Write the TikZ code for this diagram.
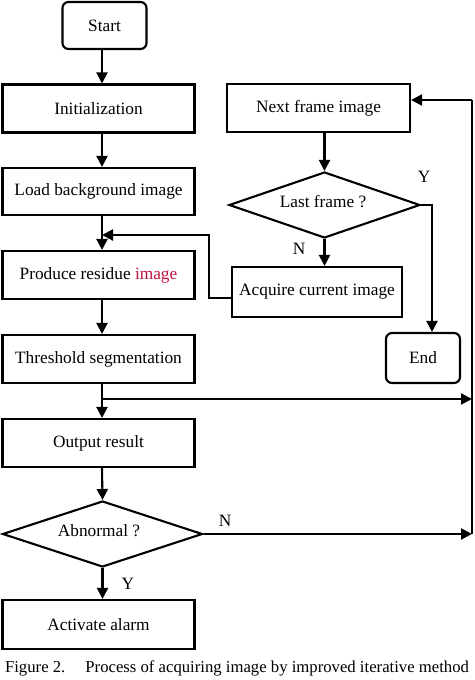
\documentclass[tikz,border=0pt]{standalone}
\usepackage{fontspec}
\setmainfont{Liberation Serif}
\usetikzlibrary{shapes.geometric,arrows.meta}
\definecolor{redtxt}{RGB}{190,20,60}
\begin{document}
\begin{tikzpicture}[x=1pt,y=-1pt,
  every node/.style={font=\fontsize{17.3}{20}\selectfont},
  box/.style={draw,line width=2.1pt,inner sep=0pt,align=center},
  rbox/.style={box,rounded corners=6pt},
  dia/.style={draw,line width=2.1pt,diamond,inner sep=0pt},
  arr/.style={line width=2.1pt,-{Triangle[length=11pt,width=11pt]}},
  ln/.style={line width=2.1pt},
  lbl/.style={inner sep=0pt}]
\useasboundingbox (0,0) rectangle (474,680);
\coordinate (colx) at (102,0);
\node[rbox,minimum width=84pt,minimum height=47pt] (start) at (104.5,25.5) {Start};
\node[box,minimum width=192pt,minimum height=48pt] (init) at (98.5,108.5) {Initialization};
\node[box,minimum width=192pt,minimum height=47pt] (load) at (98.5,191.5) {Load background image};
\node[box,minimum width=192pt,minimum height=48pt] (prod) at (98.5,275) {Produce residue \textcolor{redtxt}{image}};
\node[box,minimum width=192pt,minimum height=48pt] (thr) at (98.5,359) {Threshold segmentation};
\node[box,minimum width=192pt,minimum height=48pt] (out) at (98.5,443) {Output result};
\node[dia,minimum width=200pt,minimum height=66pt] (abn) at (102.5,534) {};
\node[lbl] at (99,531) {Abnormal ?};
\node[box,minimum width=192pt,minimum height=49pt] (alarm) at (98.5,624.5) {Activate alarm};

\node[box,minimum width=183pt,minimum height=48pt] (next) at (318.5,108) {Next frame image};
\node[dia,minimum width=191pt,minimum height=66pt] (last) at (324.5,205) {};
\node[lbl] at (323,202) {Last frame ?};
\node[box,minimum width=170pt,minimum height=50pt] (acq) at (317,292) {Acquire current image};
\node[rbox,minimum width=74pt,minimum height=50pt] (end) at (423,358) {End};

\node[lbl,font=\fontsize{16.7}{19}\selectfont] (capt) at (237,668) {Figure 2.\hspace{1.2em}Process of acquiring image by improved iterative method};

\coordinate (br) at (102,399);
\coordinate (fb) at (102,235);
\coordinate (rtop) at (472,100);
\coordinate (rmid) at (472,399);
\coordinate (rbot) at (472,534);
\coordinate (yx) at (432,0);
\coordinate (ax) at (209,0);

\draw[arr] (start.south -| colx) -- (init.north -| colx);
\draw[arr] (init.south -| colx) -- (load.north -| colx);
\draw[arr] (load.south -| colx) -- (prod.north -| colx);
\draw[arr] (prod.south -| colx) -- (thr.north -| colx);
\draw[arr] (thr.south -| colx) -- (out.north -| colx);
\draw[arr] (br) -- (rmid);
\draw[arr] (out.south -| colx) -- (abn.north);
\draw[arr] (abn.south) -- (alarm.north -| abn.south) node[lbl,pos=0.5,right=18pt] {Y};
\draw[arr] (abn.east) -- (rbot) node[lbl,pos=0.08,above=6pt] {N};
\draw[ln] (rbot) -- (rtop);
\draw[arr] (rtop) -- (rtop -| next.east);
\draw[arr] (next.south -| last.north) -- (last.north);
\draw[arr] (last.south) -- (acq.north -| last.south) node[lbl,pos=0.35,left=18pt] {N};
\draw[arr] (last.east) -- (last.east -| yx) -- (end.north -| yx);
\node[lbl] at (424,177) {Y};
\draw[arr] (acq.west |- 0,298) -- (ax |- 0,298) -- (ax |- fb) -- (fb);
\end{tikzpicture}
\end{document}
